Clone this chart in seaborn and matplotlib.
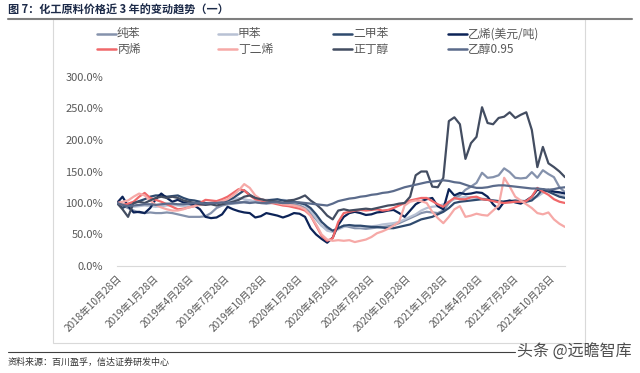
import pandas as pd
import matplotlib.pyplot as plt
import seaborn as sns
from matplotlib.lines import Line2D
from matplotlib.patches import Rectangle

sns.set_style("white")
plt.rcParams['font.family'] = ['Noto Sans CJK SC', 'DejaVu Sans']
plt.rcParams['axes.unicode_minus'] = False

# 数据：每两周一个点，以 2018-10-28 为 100%
dates = pd.date_range('2018-10-28', periods=82, freq='14D')

chunben = [100, 96, 92, 88, 85, 84, 85, 84, 84, 85, 84, 82, 80, 78, 78, 78, 79, 84, 92, 96,
           98, 99, 100, 102, 104, 102, 100, 99, 100, 101, 100, 99, 98, 96, 92, 84, 74, 64, 58, 55,
           60, 64, 62, 60, 60, 59, 60, 61, 62, 63, 65, 68, 72, 76, 80, 84, 86, 85, 84, 88,
           100, 108, 112, 121, 126, 132, 148, 140, 141, 144, 155, 149, 140, 139, 140, 149, 140, 152, 146, 141,
           125, 117]
jiaben = [100, 98, 96, 94, 95, 96, 95, 94, 95, 96, 97, 96, 95, 96, 97, 98, 99, 100, 101, 102,
          103, 105, 108, 106, 104, 103, 104, 105, 105, 104, 105, 104, 102, 100, 96, 88, 76, 64, 56, 54,
          58, 62, 64, 63, 62, 62, 63, 64, 66, 67, 68, 70, 74, 78, 82, 88, 92, 94, 95, 98,
          102, 106, 108, 110, 109, 108, 107, 106, 104, 103, 102, 101, 102, 104, 103, 106, 110, 116, 120, 118,
          114, 110]
erjiaben = [100, 92, 97, 100, 103, 106, 110, 112, 112, 110, 111, 112, 108, 105, 104, 102, 100, 99, 100, 102,
            104, 108, 114, 120, 113, 108, 106, 104, 105, 106, 104, 103, 102, 100, 98, 92, 82, 70, 62, 56,
            60, 64, 65, 64, 64, 63, 62, 62, 61, 60, 60, 62, 64, 66, 70, 74, 76, 78, 82, 86,
            92, 100, 102, 103, 104, 105, 106, 105, 104, 103, 102, 103, 104, 103, 102, 104, 112, 122, 118, 114,
            110, 108]
yixi = [100, 110, 95, 85, 86, 84, 92, 106, 115, 108, 102, 105, 101, 99, 96, 90, 78, 76, 77, 82,
        94, 90, 87, 85, 84, 77, 79, 84, 82, 80, 77, 80, 84, 83, 78, 60, 50, 43, 37, 45,
        65, 78, 84, 86, 84, 81, 82, 85, 86, 88, 89, 84, 78, 88, 98, 103, 106, 108, 95, 90,
        122, 112, 116, 114, 115, 117, 116, 110, 98, 90, 102, 104, 101, 99, 104, 110, 121, 119, 121, 118,
        117, 115]
bingxi = [100, 97, 99, 102, 110, 116, 108, 105, 102, 98, 94, 90, 91, 93, 95, 100, 105, 104, 103, 106,
          110, 116, 122, 120, 112, 106, 104, 101, 100, 98, 96, 95, 93, 91, 88, 80, 64, 48, 40, 44,
          70, 84, 86, 88, 89, 88, 89, 90, 88, 89, 92, 96, 100, 104, 106, 108, 108, 103, 98, 94,
          102, 108, 106, 106, 109, 110, 106, 105, 103, 101, 100, 101, 102, 102, 103, 110, 124, 118, 113, 106,
          102, 100]
dingerxi = [100, 102, 104, 110, 115, 112, 104, 97, 93, 90, 88, 88, 90, 93, 95, 97, 98, 99, 100, 103,
            106, 112, 120, 130, 124, 112, 106, 104, 101, 100, 98, 97, 96, 94, 90, 80, 66, 50, 42, 40,
            41, 40, 41, 38, 40, 42, 46, 52, 55, 59, 64, 70, 96, 102, 104, 103, 100, 86, 76, 68,
            78, 90, 95, 78, 80, 83, 81, 80, 88, 96, 140, 126, 110, 104, 98, 92, 84, 82, 85, 74,
            67, 62]
zhengdingchun = [100, 90, 78, 100, 102, 100, 104, 108, 110, 108, 110, 108, 104, 102, 100, 98, 97, 98, 96, 98,
                 100, 102, 105, 110, 112, 108, 106, 104, 103, 102, 100, 104, 105, 108, 112, 104, 98, 90, 80, 74,
                 88, 90, 88, 89, 90, 91, 90, 92, 94, 96, 97, 99, 100, 110, 144, 150, 150, 126, 125, 140,
                 230, 236, 225, 170, 195, 205, 252, 227, 225, 235, 237, 244, 235, 240, 244, 216, 157, 189, 163, 157,
                 150, 141]
yichun = [100, 97, 95, 96, 97, 98, 98, 97, 98, 99, 99, 98, 98, 99, 100, 100, 99, 100, 100, 101,
          100, 100, 101, 101, 100, 101, 100, 100, 101, 101, 100, 100, 101, 101, 100, 99, 98, 97, 96, 99,
          103, 105, 107, 108, 110, 111, 113, 114, 116, 117, 119, 122, 125, 127, 129, 131, 133, 134, 135, 136,
          135, 133, 132, 129, 126, 124, 124, 125, 127, 128, 128, 127, 126, 125, 124, 123, 123, 122, 121, 122,
          124, 125]

names = ['纯苯', '甲苯', '二甲苯', '乙烯(美元/吨)', '丙烯', '丁二烯', '正丁醇', '乙醇0.95']
series = [chunben, jiaben, erjiaben, yixi, bingxi, dingerxi, zhengdingchun, yichun]
colors = ['#8592ac', '#b8c1d4', '#2f4a6e', '#0c2357', '#f0686a', '#f6a9a7', '#434d61', '#5b6b8b']

tick_dates = pd.date_range('2018-10-01', periods=13, freq='3MS') + pd.Timedelta(days=27)
tick_labels = [f'{d.year}年{d.month}月{d.day}日' for d in tick_dates]
y_ticks = [0, 50, 100, 150, 200, 250, 300]

df = pd.DataFrame({'date': list(dates) * len(names),
                   'value': sum(series, []),
                   'name': [n for n in names for _ in dates]})

W, H = 640, 373
fig = plt.figure(figsize=(W / 100, H / 100), dpi=100)
ax = fig.add_axes([117 / W, 1 - 266 / H, (565 - 117) / W, (266 - 77) / H])

sns.lineplot(data=df, x='date', y='value', hue='name', hue_order=names,
             palette=dict(zip(names, colors)), linewidth=1.6, ax=ax, legend=False)

ax.set_xlim(dates[0], dates[-1])
ax.set_ylim(0, 300)
ax.set_yticks(y_ticks)
ax.set_yticklabels([f'{v:.1f}%' for v in y_ticks])
ax.set_xticks(tick_dates)
ax.set_xticklabels(tick_labels, rotation=45, ha='right', rotation_mode='anchor')
ax.tick_params(axis='y', length=0, pad=10, labelsize=8, labelcolor='#595959')
ax.tick_params(axis='x', length=0, pad=5, labelsize=7.3, labelcolor='#595959')
ax.set_xlabel('')
ax.set_ylabel('')
for s in ['left', 'right', 'top']:
    ax.spines[s].set_visible(False)
ax.spines['bottom'].set_color('#d9d9d9')
ax.spines['bottom'].set_linewidth(0.8)

# 外框、标题和页脚
fig.add_artist(Rectangle((53 / W, 1 - 343 / H), (585 - 53) / W, (343 - 19) / H,
                         transform=fig.transFigure, fill=False, edgecolor='#d9d9d9', linewidth=0.8))
fig.text(8 / W, 1 - 10 / H, '图 7：化工原料价格近 3 年的变动趋势（一）', fontsize=8,
         fontweight='bold', color='#1c2a48', va='center', ha='left')
fig.add_artist(Line2D([8 / W, 632 / W], [1 - 19 / H, 1 - 19 / H], color='#7f7f7f', linewidth=1.5))

# 图例
col_x = [97, 218, 333, 448]
row_y = [34, 49]
for k, (n, c) in enumerate(zip(names, colors)):
    x0 = col_x[k % 4]
    y0 = 1 - row_y[k // 4] / H
    fig.add_artist(Line2D([x0 / W, (x0 + 19) / W], [y0, y0], color=c, linewidth=1.8))
    fig.text((x0 + 20) / W, y0, n, fontsize=8.5, color='#595959', va='center', ha='left')

fig.add_artist(Line2D([8 / W, 515 / W], [1 - 352 / H, 1 - 352 / H], color='#404040', linewidth=0.8))
fig.text(8 / W, 1 - 362 / H, '资料来源：百川盈孚，信达证券研发中心', fontsize=6.5, style='italic',
         color='#333333', va='center', ha='left')
fig.text(632 / W, 1 - 352 / H, '头条 @远瞻智库', fontsize=11.5, color='#4d4d4d',
         va='center', ha='right')

plt.savefig('out.png', dpi=100)
plt.close()
